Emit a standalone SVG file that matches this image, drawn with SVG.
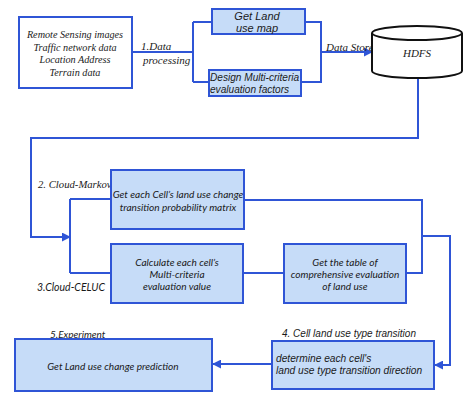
<svg xmlns="http://www.w3.org/2000/svg" width="474" height="406" viewBox="0 0 474 406">
<defs>
<style>
.box{fill:#c6dcf8;stroke:#2f55d6;stroke-width:2}
.wbox{fill:#fff;stroke:#2f55d6;stroke-width:2}
.ln{fill:none;stroke:#2f55d6;stroke-width:2}
.serif{font-family:"Liberation Serif",serif;font-style:italic;fill:#1a1a1a}
.sans{font-family:"Liberation Sans",Arial,sans-serif;font-style:italic;fill:#1a1a1a}
.lato{font-family:Lato,"Liberation Sans",sans-serif;font-style:italic;fill:#1a1a1a}
</style>
<marker id="ah2" viewBox="0 0 10 10" refX="9" refY="5" markerWidth="9" markerHeight="9" orient="auto" markerUnits="userSpaceOnUse">
<path d="M0,0 L10,5 L0,10 z" fill="#2f55d6"/>
</marker>
</defs>
<rect width="474" height="406" fill="#fff"/>
<g id="connectors">
<path class="ln" d="M132,52 H193 M193,22 V82 M193,22 H212 M193,82 H209"/>
<path class="ln" d="M305,22 H321 V82 H301"/>
<path class="ln" d="M321,52 H372" marker-end="url(#ah2)"/>
<path class="ln" d="M418,77 V138 H31 V237 H70" marker-end="url(#ah2)"/>
<path class="ln" d="M70,199 V273 M70,199 H111 M70,273 H111"/>
<path class="ln" d="M244,200 H422 V273 H406 M243,273 H284"/>
<path class="ln" d="M422,236 H450 V365 H435" marker-end="url(#ah2)"/>
<path class="ln" d="M272,364 H213" marker-end="url(#ah2)"/>
<text class="serif" x="141" y="50" font-size="11">1.Data</text>
<text class="serif" x="143" y="64" font-size="11">processing</text>
<text class="serif" x="326" y="51" font-size="11">Data Store</text>
<text class="serif" x="38" y="188" font-size="10.7">2. Cloud-Markov</text>
<text class="lato" x="37" y="291" font-size="10.5">3.Cloud-CELUC</text>
<text class="sans" x="282" y="337" font-size="10">4. Cell land use type transition</text>
<text class="lato" x="50" y="338" font-size="10">5.Experiment</text>
</g>
<g id="input">
<rect class="wbox" x="19" y="17" width="113" height="71"/>
<text class="serif" font-size="10.2" text-anchor="middle"><tspan x="75" y="38">Remote Sensing images</tspan><tspan x="75" y="50.5">Traffic network data</tspan><tspan x="75" y="63">Location Address</tspan><tspan x="75" y="75.5">Terrain data</tspan></text>
</g>
<g id="landmap">
<rect class="box" x="212" y="9" width="93" height="25"/>
<text class="sans" font-size="11" text-anchor="middle"><tspan x="257" y="20">Get  Land</tspan><tspan x="257" y="32">use map</tspan></text>
</g>
<g id="design">
<rect class="box" x="209" y="70" width="92" height="26"/>
<text class="sans" font-size="10.1"><tspan x="210" y="81">Design Multi-criteria</tspan><tspan x="210" y="93">evaluation factors</tspan></text>
</g>
<g id="hdfs">
<path d="M372,33 V71 A45,7 0 0 0 462,71 V33" fill="#fff" stroke="#111" stroke-width="2"/>
<ellipse cx="417" cy="33" rx="45" ry="7" fill="#fff" stroke="#111" stroke-width="2"/>
<text class="serif" x="417" y="57" font-size="11" text-anchor="middle">HDFS</text>
</g>
<g id="markov">
<rect class="box" x="111" y="170" width="133" height="59"/>
<text class="lato" font-size="10.1" text-anchor="middle"><tspan x="178" y="198">Get each Cell’s land use change</tspan><tspan x="178" y="211">transition probability matrix</tspan></text>
</g>
<g id="calculate">
<rect class="box" x="111" y="244" width="132" height="59"/>
<text class="lato" font-size="10.1" text-anchor="middle"><tspan x="177" y="266">Calculate each cell’s</tspan><tspan x="177" y="278">Multi-criteria</tspan><tspan x="177" y="290">evaluation value</tspan></text>
</g>
<g id="table">
<rect class="box" x="284" y="244" width="122" height="59"/>
<text class="lato" font-size="10.1" text-anchor="middle"><tspan x="345" y="266">Get the table of</tspan><tspan x="345" y="278">comprehensive evaluation</tspan><tspan x="345" y="290">of land use</tspan></text>
</g>
<g id="determine">
<rect class="box" x="272" y="341" width="162" height="48"/>
<text class="sans" font-size="10.2"><tspan x="276" y="362">determine each cell's</tspan><tspan x="276" y="374">land use type transition direction</tspan></text>
</g>
<g id="experiment">
<rect class="box" x="15" y="339" width="197" height="52"/>
<text class="lato" x="113" y="370" font-size="10.1" text-anchor="middle">Get Land use change prediction</text>
</g>
</svg>
